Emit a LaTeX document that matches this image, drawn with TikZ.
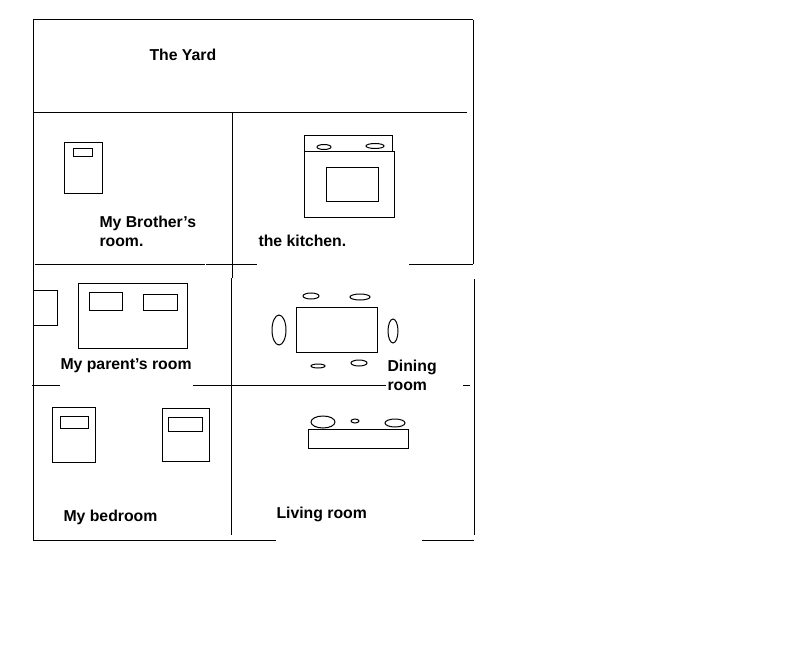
\documentclass[tikz,border=0pt]{standalone}
\usepackage{fontspec}
\setmainfont{Liberation Sans}
\begin{document}
\begin{tikzpicture}[x=1pt, y=-1pt, line width=1pt,
  lbl/.style={anchor=west, inner sep=0pt, font=\bfseries\fontsize{15.8}{19}\selectfont, align=left}]
\useasboundingbox (0,0) rectangle (800,663);
% walls
\draw (33,20) -- (473,20);
\draw (33,20) -- (33,540);
\draw (473,20) -- (473,264) (474,279) -- (474,535);
\draw (33,113) -- (467,113);
\draw (232,113) -- (232,278) (231,278) -- (231,535);
\draw (35,264) -- (205,264) (206,264) -- (257,264) (409,264) -- (473,264);
\draw (32,385) -- (60,385) (193,385) -- (386,385) (463,385) -- (470,385);
\draw (33,540) -- (276,540) (422,540) -- (474,540);
% brother's room
\draw (64,143) rectangle (102,194) (73,149) rectangle (92,157);
% kitchen
\draw (304,136) rectangle (392,152) (304,152) rectangle (394,217) (326,168) rectangle (378,202);
\draw (324,147) ellipse (7 and 2.5) (375,146) ellipse (9 and 2.5);
% parents' room
\draw (33,290) rectangle (57,325) (78,283) rectangle (187,348);
\draw (89,292) rectangle (122,310) (143,294) rectangle (177,310);
% dining room
\draw (296,307) rectangle (377,352);
\draw (311,296) ellipse (8 and 3) (360,297) ellipse (10 and 3) (279,330) ellipse (7 and 15)
      (393,331) ellipse (5 and 12) (318,366) ellipse (7 and 2) (359,363) ellipse (8 and 3);
% my bedroom
\draw (52,407) rectangle (95,462) (60,416) rectangle (88,428);
\draw (162,408) rectangle (209,461) (168,417) rectangle (202,431);
% living room
\draw (308,429) rectangle (408,448);
\draw (323,422) ellipse (12 and 6) (355,421) ellipse (4 and 2) (395,423) ellipse (10 and 4);
% labels
\node[lbl] (yard) at (149,55) {The Yard};
\node[lbl] (brother) at (99,231) {My Brother's\\room.};
\node[lbl] (kitchen) at (258,241) {the kitchen.};
\node[lbl] (parents) at (60,366) {My parent's room};
\node[lbl] (dining) at (387,375) {Dining\\room};
\node[lbl] (bedroom) at (63,517) {My bedroom};
\node[lbl] (living) at (276,514) {Living room};
\end{tikzpicture}
\end{document}
